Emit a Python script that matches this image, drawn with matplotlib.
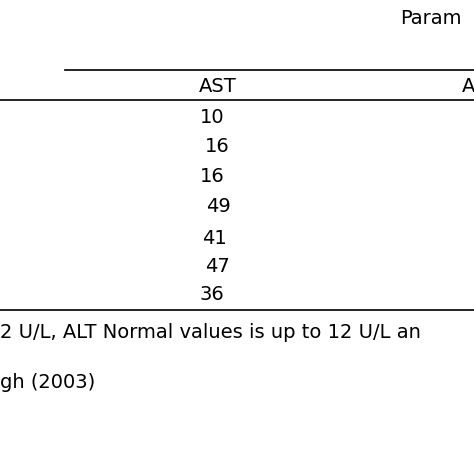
import matplotlib.pyplot as plt

# table fragment contents
header_top = "Param"
col_headers = ["AST", "A"]
ast_values = ["10", "16", "16", "49", "41", "47", "36"]
ast_x = [212, 217, 212, 218, 214, 217, 212]
footnote_1 = "2 U/L, ALT Normal values is up to 12 U/L an"
footnote_2 = "gh (2003)"

W = H = 474
fig = plt.figure(figsize=(4.74, 4.74), dpi=100)
ax = fig.add_axes([0, 0, 1, 1])
ax.set_xlim(0, W)
ax.set_ylim(H, 0)
ax.axis("off")

fs = 14
ax.text(400, 18, header_top, fontsize=fs, ha="left", va="center")
ax.plot([65, W], [70, 70], color="black", lw=1.2)
ax.text(218, 86, col_headers[0], fontsize=fs, ha="center", va="center")
ax.text(462, 86, col_headers[1], fontsize=fs, ha="left", va="center")
ax.plot([0, W], [100, 100], color="black", lw=1.2)

rows_y = [117, 147, 176, 207, 238, 267, 295]
for x, y, v in zip(ast_x, rows_y, ast_values):
    ax.text(x, y, v, fontsize=fs, ha="center", va="center")

ax.plot([0, W], [310, 310], color="black", lw=1.2)
ax.text(0, 332, footnote_1, fontsize=fs, ha="left", va="center")
ax.text(0, 383, footnote_2, fontsize=fs, ha="left", va="center")

fig.savefig("out.png", dpi=100)
